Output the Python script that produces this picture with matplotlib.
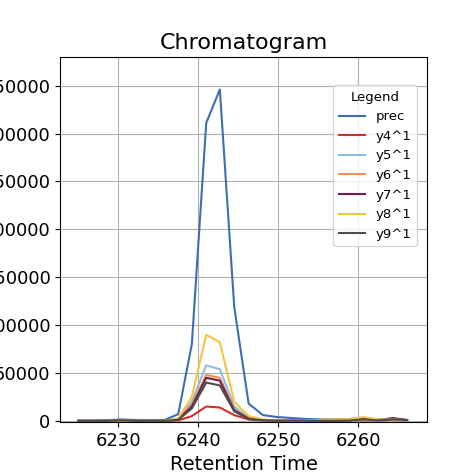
import matplotlib
matplotlib.use("Agg")
import matplotlib.pyplot as plt

rt = [6225.0, 6226.8, 6228.6, 6230.4, 6232.2, 6234.0, 6235.8, 6237.5, 6239.2, 6241.0,
      6242.7, 6244.5, 6246.3, 6248.1, 6249.9, 6251.7, 6253.5, 6255.3, 6257.1, 6258.9,
      6260.7, 6262.5, 6264.3, 6266.1]
prec = [500, 500, 800, 1500, 1000, 800, 1000, 7000, 80000, 311000, 346000, 119000, 18000, 6000,
        4000, 3000, 2000, 1500, 1500, 2000, 3000, 1500, 1500, 1000]
y4 = [0, 0, 0, 200, 0, 0, 0, 500, 5000, 15000, 14000, 6000, 1500, 500, 300, 200, 100, 100, 100, 200, 500, 300, 1000, 500]
y5 = [0, 0, 0, 300, 0, 0, 0, 2000, 20000, 58000, 54000, 15000, 3000, 1000, 500, 300, 200, 200, 200, 300, 800, 300, 1000, 500]
y6 = [0, 0, 0, 300, 0, 0, 0, 1500, 17000, 48000, 45000, 12000, 2500, 800, 400, 300, 200, 200, 200, 300, 800, 300, 1000, 500]
y7 = [0, 0, 0, 500, 0, 0, 0, 1500, 15000, 45000, 42000, 11000, 2500, 800, 400, 300, 200, 200, 200, 500, 2500, 800, 3000, 1000]
y8 = [0, 0, 0, 300, 0, 0, 0, 2500, 25000, 90000, 82000, 20000, 5000, 1500, 800, 500, 400, 1000, 1500, 2000, 4000, 1500, 1500, 800]
y9 = [0, 0, 0, 500, 0, 0, 0, 1200, 13000, 40000, 37000, 10000, 2000, 700, 400, 300, 200, 200, 200, 400, 1500, 500, 1500, 800]

series = [("prec", prec, "#3d6fb0"), ("y4^1", y4, "#d62b2b"), ("y5^1", y5, "#8bbde3"),
          ("y6^1", y6, "#f28c55"), ("y7^1", y7, "#6d1f4f"), ("y8^1", y8, "#f5c542"),
          ("y9^1", y9, "#4d4d4d")]

fig = plt.figure(figsize=(4.74, 4.74), dpi=100)
ax = fig.add_axes([0.127, 0.11, 0.774, 0.77])
for name, vals, c in series:
    ax.plot(rt, vals, color=c, label=name, lw=1.5)
ax.set_xlim(6222.75, 6268.6)
ax.set_ylim(-1000, 380000)
ax.set_yticks(range(0, 350001, 50000))
ax.set_xticks([6230, 6240, 6250, 6260])
ax.tick_params(labelsize=13)
ax.grid(True, color="#b0b0b0")
ax.set_title("Chromatogram", fontsize=16)
ax.set_xlabel("Retention Time", fontsize=14)
ax.legend(title="Legend", loc="upper right", fontsize=9.5, title_fontsize=9.5, bbox_to_anchor=(0.99, 0.94))
fig.savefig("out.png")
